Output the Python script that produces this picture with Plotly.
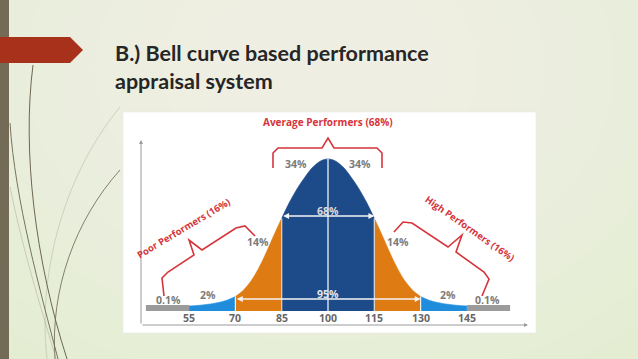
import plotly.graph_objects as go

# ---------------- data ----------------
scores = [55, 57.5, 60, 62.5, 65, 67.5, 70, 72.5, 75, 77.5, 80, 82.5, 85, 87.5, 90, 92.5, 95, 97.5,
          100, 102.5, 105, 107.5, 110, 112.5, 115, 117.5, 120, 122.5, 125, 127.5, 130, 132.5, 135,
          137.5, 140, 142.5, 145]
heights = [3.3, 3.6, 4.1, 4.8, 5.8, 7.3, 9.5, 13.5, 19.5, 28, 38.5, 50, 61, 71.5, 80.5, 88, 94.5, 98.6,
           100, 98.6, 94.5, 88, 80.5, 71.5, 61, 50, 38.5, 28, 19.5, 13.5, 9.5, 7.3, 5.8, 4.8, 4.1, 3.6, 3.3]
segments = [(55, 70, '#1f8ddb'), (70, 85, '#de7b12'), (85, 115, '#1d4a89'),
            (115, 130, '#de7b12'), (130, 145, '#1f8ddb')]
tail_ranges = [(41, 55), (145, 159)]
tail_height = 3.9
tick_vals = [55, 70, 85, 100, 115, 130, 145]
tick_labels = ['55', '70', '85', '100', '115', '130', '145']
pct_text = ['0.1%', '2%', '14%', '34%', '34%', '14%', '2%', '0.1%']
pct_x = [48.2, 61.1, 77.3, 89.6, 110.4, 122.7, 138.9, 151.8]
pct_y = [7.2, 10.5, 45.4, 97.0, 97.0, 45.4, 10.5, 7.2]

# ---------------- pixel mapping ----------------
W, H = 638, 359
X0, SX = 328.0, 46.3 / 15.0
Y0, SY = 311.0, 1.52


def X(px):
    return 100 + (px - X0) / SX


def Y(py):
    return (Y0 - py) / SY


fig = go.Figure()

# gray tails
for a, b in tail_ranges:
    fig.add_trace(go.Scatter(x=[a, b], y=[tail_height, tail_height], mode='lines',
                             line=dict(width=0, color='#9b9b9b'), fill='tozeroy',
                             fillcolor='#9b9b9b', hoverinfo='skip', showlegend=False))

# bell segments
for a, b, col in segments:
    xs = [s for s in scores if a <= s <= b]
    ys = [h for s, h in zip(scores, heights) if a <= s <= b]
    fig.add_trace(go.Scatter(x=xs, y=ys, mode='lines', line=dict(width=0.6, color=col, shape='spline'),
                             fill='tozeroy', fillcolor=col, hoverinfo='skip', showlegend=False))

hmap = dict(zip(scores, heights))
shapes = []

# background glow
cx, cy = 320, 70
n = 16
for i in range(n):
    r = 600 - i * 34
    shapes.append(dict(type='circle', xref='x', yref='y', x0=X(cx - r), x1=X(cx + r),
                       y0=Y(cy + r * 0.75), y1=Y(cy - r * 0.75), fillcolor='white', opacity=0.055,
                       line=dict(width=0), layer='below'))
# left bar
shapes.append(dict(type='rect', xref='x', yref='y', x0=X(-2), x1=X(9), y0=Y(362), y1=Y(-2),
                   fillcolor='#736b55', line=dict(width=0), layer='below'))
# red arrow
shapes.append(dict(type='path', xref='x', yref='y',
                   path=f'M {X(-2)},{Y(37)} L {X(70)},{Y(37)} L {X(83)},{Y(50)} L {X(70)},{Y(63)} L {X(-2)},{Y(63)} Z',
                   fillcolor='#a7311b', line=dict(width=0), layer='below'))
# decorative curves
curves = [
    ([(33, 65), (22, 150), (35, 260), (67, 359)], '#6d6650', 1.0, 1.0),
    ([(10, 123), (15, 200), (40, 290), (58, 359)], '#6d6650', 1.0, 0.9),
    ([(120, 107), (60, 180), (38, 280), (47, 359)], '#8a8470', 0.8, 0.35),
    ([(120, 170), (75, 220), (50, 290), (55, 359)], '#6d6650', 0.9, 0.9),
    ([(10, 187), (25, 260), (45, 320), (56, 359)], '#8a8470', 0.8, 0.4),
]
for pts, col, w, op in curves:
    (a, b), (c, d), (e, f), (g, h) = pts
    shapes.append(dict(type='path', xref='x', yref='y',
                       path=f'M {X(a)},{Y(b)} C {X(c)},{Y(d)} {X(e)},{Y(f)} {X(g)},{Y(h)}',
                       line=dict(color=col, width=w), opacity=op, layer='below'))
# white panel
shapes.append(dict(type='rect', xref='x', yref='y', x0=X(123), x1=X(536), y0=Y(333), y1=Y(112),
                   fillcolor='white', line=dict(width=0.5, color='#e6e6e6'), layer='below'))

# divider lines
for xv, col in [(70, '#f2f2f2'), (85, '#d8d8d8'), (115, '#d8d8d8'), (130, '#f2f2f2'), (100, '#ffffff')]:
    shapes.append(dict(type='line', xref='x', yref='y', x0=xv, x1=xv, y0=0, y1=hmap[xv],
                       line=dict(color=col, width=1.2)))

red = '#d5353b'


def path_from(points):
    return 'M ' + ' L '.join(f'{X(p)},{Y(q)}' for p, q in points)


# brackets
avg_br = [(273, 168), (273, 153), (278, 148), (322, 148), (328, 138), (334, 148), (377, 148), (382, 153), (382, 168)]
poor_br = [(164, 296), (162, 278), (168, 272), (194, 255), (189, 240), (202, 250), (236, 228), (245, 226), (255, 236)]
high_br = [(394, 232), (403, 222), (412, 223), (448, 247), (462, 235), (456, 252), (484, 272), (489, 279), (482, 296)]
for br in (avg_br, poor_br, high_br):
    shapes.append(dict(type='path', xref='x', yref='y', path=path_from(br),
                       line=dict(color=red, width=1.6)))

annotations = []
# axes arrows
annotations.append(dict(x=X(141), y=Y(140), ax=X(141), ay=Y(325), xref='x', yref='y', axref='x', ayref='y',
                        showarrow=True, arrowhead=2, arrowsize=0.8, arrowwidth=1, arrowcolor='#9a9a9a', text=''))
annotations.append(dict(x=X(528), y=Y(325), ax=X(141), ay=Y(325), xref='x', yref='y', axref='x', ayref='y',
                        showarrow=True, arrowhead=2, arrowsize=0.8, arrowwidth=1, arrowcolor='#9a9a9a', text=''))
# range arrows
annotations.append(dict(x=115, y=Y(216), ax=85, ay=Y(216), xref='x', yref='y', axref='x', ayref='y',
                        showarrow=True, arrowhead=2, startarrowhead=2, arrowside='end+start', arrowsize=0.9,
                        arrowwidth=1.3, arrowcolor='#f4f4f4', text=''))
annotations.append(dict(x=130, y=Y(299), ax=70, ay=Y(299), xref='x', yref='y', axref='x', ayref='y',
                        showarrow=True, arrowhead=2, startarrowhead=2, arrowside='end+start', arrowsize=0.9,
                        arrowwidth=1.3, arrowcolor='#f4f4f4', text=''))

lab_font = dict(family='Open Sans, Arial', size=10.5, color='#7b7b7b')
for t, xv, yv in zip(pct_text, pct_x, pct_y):
    annotations.append(dict(x=xv, y=yv, text=f'<b>{t}</b>', showarrow=False, font=lab_font))
annotations.append(dict(x=100, y=Y(211), text='<b>68%</b>', showarrow=False,
                        font=dict(family='Open Sans, Arial', size=10.5, color='#dcdcdc')))
annotations.append(dict(x=100, y=Y(294), text='<b>95%</b>', showarrow=False,
                        font=dict(family='Open Sans, Arial', size=10.5, color='#e6e6e6')))
for tv, tl in zip(tick_vals, tick_labels):
    annotations.append(dict(x=tv, y=Y(317.5), text=f'<b>{tl}</b>', showarrow=False,
                            font=dict(family='Open Sans, Arial', size=10.5, color='#666666')))

red_font = dict(family='Open Sans, Arial', size=10, color=red)
annotations.append(dict(x=100, y=Y(122), text='<b>Average Performers (68%)</b>', showarrow=False, font=red_font))
annotations.append(dict(x=X(183), y=Y(228), text='<b>Poor Performers (16%)</b>', showarrow=False,
                        textangle=-31, font=dict(family='Open Sans, Arial', size=9.5, color=red)))
annotations.append(dict(x=X(470), y=Y(228), text='<b>High Performers (16%)</b>', showarrow=False,
                        textangle=35, font=dict(family='Open Sans, Arial', size=9.5, color=red)))

# title
title_font = dict(family='Lato, Open Sans, Arial', size=21.5, color='#262626')
annotations.append(dict(x=X(113), y=Y(38), text='<b>B.) Bell curve based performance<br>appraisal system</b>',
                        showarrow=False, xanchor='left', yanchor='top', align='left', font=title_font))

fig.update_layout(
    width=W, height=H, margin=dict(l=0, r=0, t=0, b=0),
    paper_bgcolor='#e0e8ca', plot_bgcolor='rgba(0,0,0,0)',
    xaxis=dict(range=[X(0), X(W)], visible=False, fixedrange=True),
    yaxis=dict(range=[Y(H), Y(0)], visible=False, fixedrange=True),
    shapes=shapes, annotations=annotations, showlegend=False,
)
fig.write_html('out.html', config={'displayModeBar': False},
               post_script="document.body.style.margin='0px';document.body.style.overflow='hidden';")
